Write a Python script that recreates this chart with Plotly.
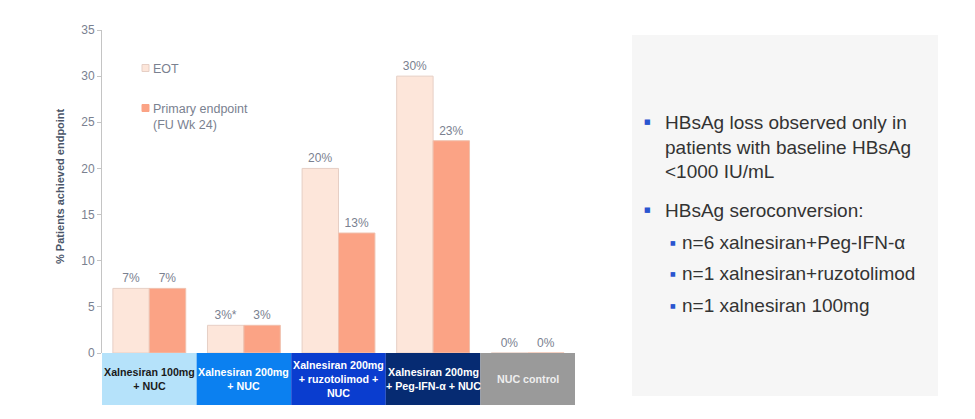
import plotly.graph_objects as go

categories = ["Xalnesiran 100mg<br>+ NUC", "Xalnesiran 200mg<br>+ NUC",
              "Xalnesiran 200mg<br>+ ruzotolimod +<br>NUC", "Xalnesiran 200mg<br>+ Peg-IFN-α + NUC",
              "NUC control"]
eot_values = [7, 3, 20, 30, 0]
primary_values = [7, 3, 13, 23, 0]
eot_labels = ["7%", "3%*", "20%", "30%", "0%"]
primary_labels = ["7%", "3%", "13%", "23%", "0%"]
series_names = ["EOT", "Primary endpoint<br>(FU Wk 24)"]
series_colors = ["#fde6da", "#fba385"]
box_colors = ["#b5e2fa", "#0b80f0", "#0a3dcf", "#062b72", "#9a9a9a"]
box_text_colors = ["#1a1a1a", "#ffffff", "#ffffff", "#ffffff", "#eeeeee"]

W, H = 975, 419
L, R, T, B = 102, 400, 30, 66
PW, PH = W - L - R, H - T - B

def px(x):
    return (x - L) / PW

def py(y):
    return (H - B - y) / PH

FONT = "Arial, Liberation Sans, sans-serif"
GRAY = "#7a8190"

fig = go.Figure()
x_idx = list(range(len(categories)))
fig.add_trace(go.Bar(x=x_idx, y=eot_values, name=series_names[0], text=eot_labels,
                     textposition="outside", cliponaxis=False,
                     marker=dict(color=series_colors[0], line=dict(color="#e6cfc5", width=1)),
                     textfont=dict(color=GRAY, size=12, family=FONT)))
fig.add_trace(go.Bar(x=x_idx, y=primary_values, name=series_names[1], text=primary_labels,
                     textposition="outside", cliponaxis=False,
                     marker=dict(color=series_colors[1], line=dict(color="#f0c0ad", width=1)),
                     textfont=dict(color=GRAY, size=12, family=FONT)))

shapes = []
annotations = []
for i, cat in enumerate(categories):
    shapes.append(dict(type="rect", xref="x", yref="paper", x0=i - 0.5, x1=i + 0.5,
                       y0=py(405), y1=0, fillcolor=box_colors[i], line=dict(width=0), layer="above"))
    annotations.append(dict(x=i, y=py(379), xref="x", yref="paper", text="<b>%s</b>" % cat,
                            showarrow=False, font=dict(size=10.7, color=box_text_colors[i], family=FONT),
                            xanchor="center", yanchor="middle"))

# manual legend
legend_rows = [68, 108]
for k, yc in enumerate(legend_rows):
    shapes.append(dict(type="rect", xref="paper", yref="paper", x0=px(142), x1=px(149),
                       y0=py(yc + 3.5), y1=py(yc - 3.5), fillcolor=series_colors[k],
                       line=dict(color="#e6cfc5" if k == 0 else series_colors[k], width=1)))
    annotations.append(dict(x=px(151), y=py(yc - 8), xref="paper", yref="paper", text=series_names[k],
                            showarrow=False, xanchor="left", yanchor="top", align="left",
                            font=dict(size=12.5, color=GRAY, family=FONT)))

# right panel
shapes.append(dict(type="rect", xref="paper", yref="paper", x0=px(632), x1=px(938),
                   y0=py(396), y1=py(35), fillcolor="#f6f6f6", line=dict(width=0), layer="below"))

TXT = "#333333"
BLUE = "#2a55d0"
main_items = [(122, "HBsAg loss observed only in<br>patients with baseline HBsAg<br>&lt;1000 IU/mL"),
              (210, "HBsAg seroconversion:")]
for yc, t in main_items:
    annotations.append(dict(x=px(647), y=py(yc), xref="paper", yref="paper", text="■",
                            showarrow=False, xanchor="center", yanchor="middle",
                            font=dict(size=7, color=BLUE, family="DejaVu Sans")))
    annotations.append(dict(x=px(663), y=py(yc - 12), xref="paper", yref="paper", text=t,
                            showarrow=False, xanchor="left", yanchor="top", align="left",
                            font=dict(size=19, color=TXT, family=FONT)))
sub_items = [(242, "n=6 xalnesiran+Peg-IFN-α"), (273, "n=1 xalnesiran+ruzotolimod"),
             (305, "n=1 xalnesiran 100mg")]
for yc, t in sub_items:
    annotations.append(dict(x=px(673), y=py(yc), xref="paper", yref="paper", text="■",
                            showarrow=False, xanchor="center", yanchor="middle",
                            font=dict(size=6, color=BLUE, family="DejaVu Sans")))
    annotations.append(dict(x=px(680), y=py(yc), xref="paper", yref="paper", text=t,
                            showarrow=False, xanchor="left", yanchor="middle", align="left",
                            font=dict(size=19, color=TXT, family=FONT)))

annotations.append(dict(x=px(60), y=py(186), xref="paper", yref="paper",
                        text="<b>% Patients achieved endpoint</b>", textangle=-90, showarrow=False,
                        xanchor="center", yanchor="middle", font=dict(size=11, color="#4a5568", family=FONT)))

fig.update_layout(
    width=W, height=H, margin=dict(l=L, r=R, t=T, b=B),
    paper_bgcolor="white", plot_bgcolor="white",
    barmode="group", bargap=0.23, bargroupgap=0,
    font=dict(family=FONT, color=GRAY),
    shapes=shapes, annotations=annotations,
    showlegend=False,
    xaxis=dict(range=[-0.5, 4.5], showticklabels=False, showline=False, showgrid=False,
               zeroline=False, ticks=""),
    yaxis=dict(range=[0, 35], dtick=5, showline=True, linecolor="#c4c4c4", linewidth=1,
               ticks="outside", ticklen=4, tickcolor="#c4c4c4", showgrid=False, zeroline=False,
               tickfont=dict(size=12, color=GRAY, family=FONT)),
)

fig.write_html("out.html")
